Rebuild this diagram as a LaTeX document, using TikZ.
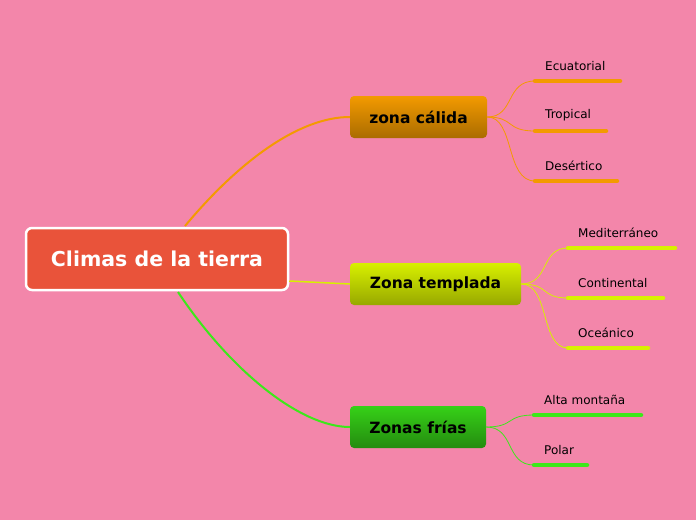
\documentclass[tikz,border=0pt]{standalone}
\usepackage{fontspec}
\setmainfont{DejaVu Sans}
\begin{document}
\begin{tikzpicture}[x=1pt,y=-1pt,
  br/.style={rounded corners=4pt,minimum height=42pt,inner sep=0pt,font=\bfseries\fontsize{15.5}{18}\selectfont},
  leaf/.style={anchor=south west,inner sep=0pt,font=\fontsize{12}{13}\selectfont},
  ul/.style={line width=4.5pt,line cap=round}]
\definecolor{bg}{HTML}{F386AA}
\definecolor{org}{HTML}{F39A00}
\definecolor{ylw}{HTML}{D8F000}
\definecolor{grn}{HTML}{3CE81A}
\definecolor{rootc}{HTML}{E9533A}
\fill[bg] (0,0) rectangle (696,520);
\useasboundingbox (0,0) rectangle (696,520);
% root
\node[draw=white,line width=2.5pt,fill=rootc,rounded corners=6pt,minimum width=262pt,minimum height=62pt,text=white,font=\bfseries\fontsize{20.5}{24}\selectfont] (root) at (157,259) {Climas de la tierra};
% branches
\node[br,top color=org,bottom color=org!70!black,minimum width=137pt] (c) at (418.5,117) {zona cálida};
\node[br,top color=ylw,bottom color=ylw!70!black,minimum width=171pt] (t) at (435.5,284) {Zona templada};
\node[br,top color=grn!90!black,bottom color=grn!60!black,minimum width=136pt] (f) at (418,427) {Zonas frías};
% root connectors
\draw[org,line width=2pt] (185,226) .. controls (240,160) and (300,117) .. (c.west);
\draw[ylw,line width=1.5pt] (root.east|-0,281) -- (t.west);
\draw[grn,line width=2pt] (178,292) .. controls (230,370) and (300,427) .. (f.west);
% leaves
\foreach \nm/\txt/\y/\xe in {e/Ecuatorial/81/620,tr/Tropical/131/606,d/Desértico/181/617}{
  \coordinate (\nm a) at (535,\y); \coordinate (\nm b) at (\xe,\y);
  \draw[org,ul] (\nm a) -- (\nm b);
  \node[leaf] (\nm) at (545,\y-10) {\txt};
  \draw[org,line width=0.8pt] (c.east) .. controls (515,117) and (505,\y) .. (\nm a);
}
\foreach \nm/\txt/\y/\xe in {m/Mediterráneo/248/675,co/Continental/298/663,o/Oceánico/348/648}{
  \coordinate (\nm a) at (568,\y); \coordinate (\nm b) at (\xe,\y);
  \draw[ylw,ul] (\nm a) -- (\nm b);
  \node[leaf] (\nm) at (578,\y-10) {\txt};
  \draw[ylw,line width=0.8pt] (t.east) .. controls (550,284) and (540,\y) .. (\nm a);
}
\foreach \nm/\txt/\y/\xe in {a/Alta montaña/415/641,p/Polar/465/587}{
  \coordinate (\nm a) at (534,\y); \coordinate (\nm b) at (\xe,\y);
  \draw[grn,ul] (\nm a) -- (\nm b);
  \node[leaf] (\nm) at (544,\y-10) {\txt};
  \draw[grn,line width=0.8pt] (f.east) .. controls (515,427) and (505,\y) .. (\nm a);
}
\end{tikzpicture}
\end{document}
